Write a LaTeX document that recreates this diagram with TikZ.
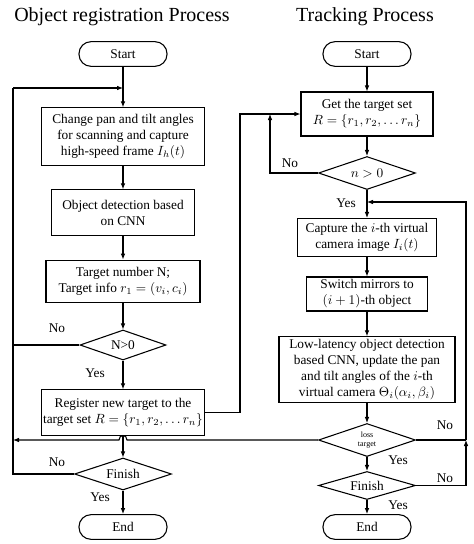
\documentclass[tikz,border=0pt]{standalone}
\usepackage{fontspec}
\setmainfont{Liberation Serif}
\usepackage{amsmath}
\usetikzlibrary{arrows.meta, shapes.geometric}

\begin{document}
\begin{tikzpicture}[
    > = {Latex[length = 4.5pt, width = 3.5pt]}, % arrow head style
    x = 0.75pt, y = -0.75pt, % work on the pixel grid
    line width = 0.8pt, % line style
    font = \fontsize{10}{12}\selectfont
]

\tikzstyle{process}=[
    draw = black,
    rectangle,
    align = center,
    inner sep = 1pt
]
\tikzstyle{terminal}=[
    draw = black,
    rectangle,
    rounded corners = 9pt,
    minimum width = 66pt,
    minimum height = 18.5pt
]
\tikzstyle{decision}=[
    draw = black,
    diamond,
    shape aspect = 3,
    inner sep = 0pt,
    align = center
]
\tikzstyle{title}=[font = \fontsize{15}{18}\selectfont]
\tikzstyle{answer}=[font = \fontsize{10}{12}\selectfont]

\useasboundingbox (0, 0) rectangle (474, 544);

\node[title] (Registration Title) at (122, 17) {Object registration Process};
\node[title] (Tracking Title) at (365, 17) {Tracking Process};

% registration column
\node[terminal] (Start L) at (123, 54) {Start};
\node[process, minimum width = 122pt, minimum height = 43pt] (Change Angles) at (123, 136.5) {Change pan and tilt angles\\ for scanning and capture\\ high-speed frame $I_h(t)$};
\node[process, minimum width = 107pt, minimum height = 34pt] (Object Detection) at (123, 212.5) {Object detection based\\ on CNN};
\node[process, minimum width = 115.5pt, minimum height = 32pt] (Target Info) at (123, 281.5) {Target number N;\\ Target info $r_1 = (v_i, c_i)$};
\node[decision, minimum width = 64.5pt, minimum height = 22.5pt] (N Check) at (123, 345) {N>0};
\node[process, minimum width = 122pt, minimum height = 34pt] (Register Target) at (123, 412.5) {Register new target to the\\ target set $R = \{r_1, r_2, {\ldots}\, r_n\}$};
\node[decision, minimum width = 72.75pt, minimum height = 24pt] (Finish L) at (123, 474) {Finish};
\node[terminal] (End L) at (123, 527) {End};

% tracking column
\node[terminal] (Start R) at (367, 54) {Start};
\node[process, minimum width = 99pt, minimum height = 33pt] (Target Set) at (367, 114) {Get the target set\\ $R = \{r_1, r_2, {\ldots}\, r_n\}$};
\node[decision, minimum width = 72.75pt, minimum height = 24.75pt] (n Check) at (367, 173) {$n > 0$};
\node[process, minimum width = 104pt, minimum height = 28.5pt] (Capture Image) at (367, 237.5) {Capture the $i$-th virtual\\ camera image $I_i(t)$};
\node[process, minimum width = 91pt, minimum height = 25.5pt] (Switch Mirrors) at (367, 294) {Switch mirrors to\\ $(i+1)$-th object};
\node[process, minimum width = 132pt, minimum height = 49pt] (Fast Detection) at (367, 369.5) {Low-latency object detection\\ based CNN, update the pan\\ and tilt angles of the $i$-th\\ virtual camera $\Theta_i(\alpha_i, \beta_i)$};
\node[decision, minimum width = 72.75pt, minimum height = 24.75pt, font = \fontsize{6}{7}\selectfont] (Loss Target) at (367, 440) {loss\\ target};
\node[decision, minimum width = 72.75pt, minimum height = 21pt] (Finish R) at (367, 485.5) {Finish};
\node[terminal] (End R) at (367, 527) {End};

\coordinate (Loop L) at (13, 88);
\coordinate (Bridge) at (240, 114);
\coordinate (Retry) at (270, 114);
\coordinate (Loop R) at (466, 440);
\coordinate (Next Object) at (466, 202);

% main flow
\draw[->] (Start L) -- (Change Angles);
\draw[->] (Change Angles) -- (Object Detection);
\draw[->] (Object Detection) -- (Target Info);
\draw[->] (Target Info) -- (N Check);
\draw[->] (N Check) -- (Register Target);
\draw[->] (Register Target) -- (Finish L);
\draw[->] (Finish L) -- (End L);

\draw[->] (Start R) -- (Target Set);
\draw[->] (Target Set) -- (n Check);
\draw[->] (n Check) -- (Capture Image);
\draw[->] (Capture Image) -- (Switch Mirrors);
\draw[->] (Switch Mirrors) -- (Fast Detection);
\draw[->] (Fast Detection) -- (Loss Target);
\draw[->] (Loss Target) -- (Finish R);
\draw[->] (Finish R) -- (End R);

% loops
\draw (Finish L.west) -| (Loop L);
\draw (N Check.west) -- (N Check.west -| Loop L);
\draw[->] (Loop L) -- (Loop L -| Start L);
\draw[->] (Register Target.east) -| (Bridge) -- (Target Set.west);
\draw[->] (n Check.west) -| (Retry);
\draw[->] (Loss Target.west) -- (127, 440) .. controls (127, 434) and (119, 434) .. (119, 440) -- (Loss Target.west -| Loop L);
\draw (Loss Target.east) -- (Loop R);
\draw[->] (Finish R.east) -| (Loop R);
\draw[->] (Loop R) -- (Next Object) -- (Next Object -| Capture Image);

% answers
\node[answer] (No N) at (57, 328) {No};
\node[answer] (Yes N) at (95, 373) {Yes};
\node[answer] (No Finish L) at (57, 462) {No};
\node[answer] (Yes Finish L) at (100, 497) {Yes};
\node[answer] (No n) at (290, 163) {No};
\node[answer] (Yes n) at (346, 203) {Yes};
\node[answer] (No Loss) at (445, 425) {No};
\node[answer] (Yes Loss) at (398, 460) {Yes};
\node[answer] (No Finish R) at (445, 478) {No};
\node[answer] (Yes Finish R) at (398, 505) {Yes};

\end{tikzpicture}
\end{document}
